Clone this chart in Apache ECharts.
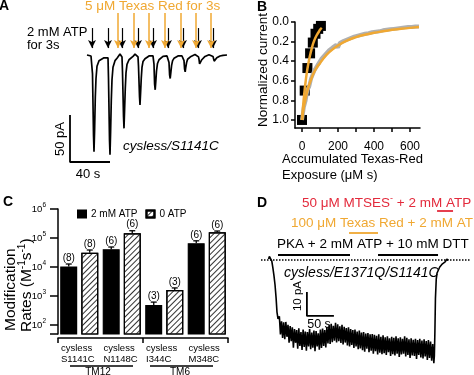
<!DOCTYPE html>
<html>
<head>
<meta charset="utf-8">
<script src="https://cdn.jsdelivr.net/npm/echarts@6/dist/echarts.min.js"></script>
<style>
html, body { margin: 0; padding: 0; background: #fff; }
#chart { width: 474px; height: 375px; }
</style>
</head>
<body>
<div id="chart"></div>
<script>
'use strict';
var FONT = '"Liberation Sans", Arial, sans-serif',
		ORANGE = '#f0a832',
		RED = '#e32a3c',
		GREY = '#b0b0b0';

// ---- panel A: current trace, time (s) vs current (pA)
var traceA = [
	[0, 0], [2, -0.5], [4, -1], [5, -2], [5.5, -20], [6.5, -85], [7, -103], [7.6, -80], [8.3, -45], [9, -25], [10, -12], [12, -6], [14, -4], [17, -3], [19, -2.5],
	[21, -3], [21.5, -25], [22.5, -90], [23, -106], [23.6, -82], [24.3, -48], [25, -26], [26, -13], [28, -6], [30, -3.5], [32, -1.5], [33, 1], [34, -1],
	[35, -2], [35.5, -18], [36.5, -65], [37, -78], [37.6, -58], [38.3, -35], [39, -19], [40, -10], [42, -5], [44, -3], [46, -1.5], [48, 1], [50, -1],
	[51, -2], [51.5, -12], [52.5, -44], [53, -53], [53.6, -40], [54.3, -24], [55, -13], [56, -7], [58, -4], [60, -2], [62, -1], [64, 1], [66, -1],
	[66.5, -3], [67, -10], [67.6, -31], [68.2, -37], [68.8, -28], [69.5, -17], [70.5, -9], [72, -5], [74, -3], [76, -1.5], [78, 0.5], [80, -1],
	[81.5, -3], [82, -8], [82.6, -21], [83.2, -25], [83.8, -19], [84.6, -11], [85.6, -6], [87, -3.5], [89, -2], [91, -1], [93, 0.5], [95, -1],
	[96.5, -2.5], [97, -6], [97.6, -15], [98.2, -18], [98.8, -13], [99.6, -8], [100.6, -4.5], [102, -3], [104, -1.5], [106, -0.5], [108, 0.5], [110, -1],
	[111.5, -2], [112, -4.5], [112.6, -9.5], [113.3, -11], [114, -8], [114.8, -5], [116, -3], [118, -1.5], [120, -0.5], [122, 0.3], [124, -0.5],
	[126, -1.5], [126.5, -3.5], [127.2, -6.5], [128, -7], [128.8, -5], [129.8, -3], [131, -1.8], [133, -1], [136, -0.3], [138, 0], [140, 0]
];
var atpArrowTimes = [5, 21, 35, 51, 66, 81, 96, 111, 126];
var texasRedArrowTimes = [31, 47, 62, 78, 94, 109, 124];
var scaleBarA = [[-17, -63.8], [-17, -113.8], [23, -113.8]];	// 50 pA, 40 s

// ---- panel B: normalized current vs accumulated exposure (uM s)
var pulseExposure = [0, 15, 30, 45, 60, 75, 90, 105];
var pulseCurrent = [1.0, 0.70, 0.47, 0.32, 0.21, 0.12, 0.07, 0.04];
var pulseFitX = [0, 5, 10, 15, 20, 25, 30, 40, 50, 60, 70, 80, 90, 100, 110];
var pulseFitY = [1.0, 0.88, 0.78, 0.69, 0.61, 0.54, 0.48, 0.38, 0.30, 0.23, 0.18, 0.14, 0.11, 0.08, 0.06];
var contStep = 10;	// continuous recording, one sample per 10 uM s
var contCurrent = [
	1.00, 0.87, 0.80, 0.69, 0.66, 0.58, 0.56, 0.49, 0.48, 0.43, 0.42, 0.37, 0.38, 0.33, 0.34, 0.29,
	0.31, 0.26, 0.28, 0.235, 0.26, 0.215, 0.235, 0.195, 0.215, 0.18, 0.20, 0.165, 0.185, 0.15, 0.17, 0.14,
	0.16, 0.13, 0.15, 0.12, 0.14, 0.115, 0.13, 0.105, 0.125, 0.10, 0.115, 0.095, 0.11, 0.085, 0.10, 0.08,
	0.095, 0.075, 0.09, 0.07, 0.085, 0.065, 0.08, 0.06, 0.075, 0.055, 0.07, 0.05, 0.065, 0.05, 0.06, 0.045,
	0.055, 0.045
];
var contFitX = [0, 10, 20, 30, 40, 50, 60, 80, 100, 120, 150, 200, 250, 300, 350, 400, 450, 500, 550, 600, 650];
var contFitY = [1.0, 0.87, 0.78, 0.70, 0.64, 0.59, 0.54, 0.47, 0.42, 0.37, 0.31, 0.24, 0.19, 0.155, 0.13, 0.11, 0.095, 0.08, 0.07, 0.06, 0.05];

// ---- panel C: modification rates (M-1 s-1)
var mutants = ['cysless\nS1141C', 'cysless\nN1148C', 'cysless\nI344C', 'cysless\nM348C'];
var rateAtp = [1.05e4, 4.1e4, 490, 6.6e4];
var rateAtpErr = [1.27e4, 4.9e4, 617, 8.0e4];
var rateNoAtp = [3.1e4, 1.45e5, 1.6e3, 1.57e5];
var rateNoAtpErr = [3.86e4, 1.78e5, 1.9e3, 1.74e5];
var nAtp = [8, 6, 3, 6];
var nNoAtp = [8, 6, 3, 6];

// ---- panel D: current trace, time (s) vs current (pA)
var traceDOnset = [[14, 0.4], [15.5, 1.5], [17, 1.2], [18.5, 0.8], [20, -0.5], [22, -3.3], [24, -6.5], [26, -10.4], [28, -16], [29.6, -21.7], [31.5, -24.5]];
var noiseStart = 34, noiseStep = 2;	// sampled every 2 s
var traceDNoise = [
	-23.5, -31.0, -25.5, -32.5, -26.0, -33.0, -25.8, -32.0, -27.0, -34.5, -27.5, -33.8, -28.0, -36.5, -28.8, -34.5,
	-29.2, -37.0, -28.5, -35.8, -30.0, -37.5, -29.0, -36.2, -29.8, -37.8, -30.0, -36.0, -28.8, -37.2, -30.2, -36.5,
	-29.4, -38.0, -29.6, -36.0, -30.5, -37.4, -29.0, -36.6, -28.6, -35.8, -29.2, -36.4, -27.8, -34.8, -27.2, -35.0,
	-26.6, -34.2, -27.4, -33.6, -26.2, -34.4, -26.8, -33.8, -27.6, -34.6, -27.0, -35.2, -27.8, -34.4, -28.4, -35.6,
	-28.0, -36.0, -28.8, -35.4, -29.2, -36.6, -29.0, -36.0, -29.8, -37.2, -29.4, -36.8, -30.2, -37.6, -30.0, -38.2,
	-30.6, -37.0, -30.4, -38.4, -31.0, -37.8, -30.8, -39.0, -31.2, -38.0, -31.6, -39.4, -31.0, -38.6, -32.0, -39.2,
	-31.4, -38.8, -32.2, -39.6, -31.8, -38.4, -32.6, -40.0, -32.0, -39.2, -32.4, -39.8, -31.8, -39.0, -32.6, -40.4,
	-32.2, -39.4, -32.8, -39.0, -31.8, -40.2, -32.4, -39.6, -33.0, -40.8, -32.6, -39.8, -33.2, -40.0, -32.8, -41.2,
	-33.4, -39.6, -32.8, -40.6, -33.6, -41.0, -33.0, -40.2, -33.8, -41.6, -33.4, -40.8, -34.0, -42.0, -35.0, -43.0
];
var traceDRecovery = [[321, -40], [322, -30], [323, -16], [324.5, -8], [326, -5.4], [331, -2.9], [336, -1.6], [341, -0.8], [344, 0.3], [346, 0.8], [347, 0]];
var pkaBar = [31.5, 164.8], dttBar = [216.7, 327.8], texasRedBar = [163, 216.7], mtsesBar = [326, 355.6];
var scaleBarD = [[85, -13.3], [85, -23.3], [135, -23.3]];	// 10 pA, 50 s

// ---------------------------------------------------------------
var chart = echarts.init(document.getElementById('chart'));

function zip(xs, ys) {
	return xs.map(function (x, i) { return [x, ys[i]]; });
}
function sampled(t0, dt, vals) {
	return vals.map(function (v, i) { return [t0 + i * dt, v]; });
}
function txt(x, y, s, size, extra) {
	var st = {
		text: s, fontSize: size, fontFamily: FONT, fill: '#000',
		align: 'left', textAlign: 'left', verticalAlign: 'middle', textVerticalAlign: 'middle'
	};
	extra = extra || {};
	for (var k in extra.style || {}) { st[k] = extra.style[k]; }
	if (st.align) { st.textAlign = st.align; }
	return { type: 'text', x: x, y: y, rotation: extra.rotation || 0, silent: true, style: st };
}
function hline(x1, x2, y, color, w) {
	return { type: 'line', silent: true, shape: { x1: x1, y1: y, x2: x2, y2: y },
		style: { stroke: color, lineWidth: w } };
}
function seg(x1, x2, y, color) {
	return [{ coord: [x1, y], lineStyle: { color: color, width: 1.8, type: 'solid' } }, { coord: [x2, y] }];
}

var axisStyle = { color: '#000', width: 1.5 };
var traceD = traceDOnset.concat(sampled(noiseStart, noiseStep, traceDNoise), traceDRecovery);

var arrowLines = atpArrowTimes.map(function (t) {
	return [{ coord: [t, 28.7], lineStyle: { color: '#000', width: 1.2, type: 'solid' } }, { coord: [t, 7.4] }];
}).concat(texasRedArrowTimes.map(function (t) {
	return [{ coord: [t, 44.7], lineStyle: { color: ORANGE, width: 1.5, type: 'solid' } }, { coord: [t, 7.4] }];
}));

var hatch = {
	symbol: 'rect', symbolSize: 1, color: '#333',
	dashArrayX: [1, 0], dashArrayY: [1, 2.6], rotation: -Math.PI / 4
};

function errorItem(side) {
	return function (params, api) {
		var top = api.coord([api.value(0), api.value(1)]),
				et = api.coord([api.value(0), api.value(2)]),
				x = top[0] + side * 10.5;
		return {
			type: 'group',
			children: [
				{ type: 'line', shape: { x1: x, y1: top[1], x2: x, y2: et[1] }, style: { stroke: '#000', lineWidth: 1.3 } },
				{ type: 'line', shape: { x1: x - 3, y1: et[1], x2: x + 3, y2: et[1] }, style: { stroke: '#000', lineWidth: 1.3 } },
				{ type: 'text', x: x, y: et[1] - 1, style: {
					text: '(' + api.value(3) + ')', fontSize: 10, fontFamily: FONT, fill: '#000',
					align: 'center', verticalAlign: 'bottom', textAlign: 'center', textVerticalAlign: 'bottom' } }
			]
		};
	};
}

var option = {
	animation: false,
	textStyle: { fontFamily: FONT },
	grid: [
		{ left: 60, top: 10, width: 170, height: 155 },
		{ left: 295, top: 22, width: 125, height: 106 },
		{ left: 58, top: 209, width: 170, height: 125 },
		{ left: 261, top: 205, width: 209, height: 165 }
	],
	legend: {
		left: 72, top: 204, itemWidth: 8, itemHeight: 7, itemGap: 8, icon: 'rect',
		selectedMode: false, data: ['2 mM ATP', '0 ATP'],
		textStyle: { fontSize: 10, color: '#000', fontFamily: FONT }
	},
	xAxis: [
		{ gridIndex: 0, type: 'value', min: -27, max: 143, show: false },
		{
			gridIndex: 1, type: 'value', min: -38.9, max: 655.6,
			axisLine: { show: true, onZero: false, lineStyle: axisStyle },
			axisTick: { show: true, length: 4, customValues: [0, 100, 200, 300, 400, 500, 600], lineStyle: axisStyle },
			axisLabel: { customValues: [0, 200, 400, 600], margin: 13, fontSize: 12, color: '#000', fontFamily: FONT },
			splitLine: { show: false }
		},
		{
			gridIndex: 2, type: 'category', data: mutants, offset: 4,
			axisLine: { show: true, onZero: false, lineStyle: axisStyle },
			axisTick: { show: true, length: 5, lineStyle: axisStyle },
			axisLabel: { show: false }, splitLine: { show: false }
		},
		{
			gridIndex: 2, type: 'category', data: mutants.concat(['']), boundaryGap: false,
			position: 'bottom', offset: 4,
			axisLine: { show: false }, axisTick: { show: false }, splitLine: { show: false },
			axisLabel: { interval: 0, align: 'left', margin: 5, fontSize: 9.5, lineHeight: 11, padding: [0, 0, 0, 3], color: '#000', fontFamily: FONT }
		},
		{ gridIndex: 3, type: 'value', min: 0, max: 387, show: false }
	],
	yAxis: [
		{ gridIndex: 0, type: 'value', min: -117, max: 47.9, show: false },
		{
			gridIndex: 1, type: 'value', inverse: true, min: 0, max: 1.082,
			axisLine: { show: true, onZero: false, lineStyle: axisStyle },
			axisTick: { show: true, length: 4, customValues: [0, 0.2, 0.4, 0.6, 0.8, 1.0], lineStyle: axisStyle },
			axisLabel: {
				customValues: [0, 0.2, 0.4, 0.6, 0.8, 1.0], margin: 6, fontSize: 12, color: '#000', fontFamily: FONT,
				formatter: function (v) { return v.toFixed(1); }
			},
			splitLine: { show: false }
		},
		{
			gridIndex: 2, type: 'log', min: 49, max: 1e6,
			axisLine: { show: true, onZero: false, lineStyle: axisStyle },
			axisTick: { show: true, length: 8, lineStyle: axisStyle },
			minorTick: { show: false }, splitLine: { show: false },
			axisLabel: {
				margin: 12, color: '#000',
				formatter: function (v) {
					var p = Math.log(v) / Math.LN10, r = Math.round(p);
					if (Math.abs(p - r) > 0.01) { return ''; }
					return '{b|10}{s|' + r + '}';
				},
				rich: {
					b: { fontSize: 9.5, fontFamily: FONT, color: '#000' },
					s: { fontSize: 6.5, fontFamily: FONT, color: '#000', padding: [0, 0, 7, 0] }
				}
			}
		},
		{ gridIndex: 3, type: 'value', min: -45.83, max: 22.92, show: false }
	],
	series: [
		// A
		{
			type: 'line', xAxisIndex: 0, yAxisIndex: 0, data: traceA, showSymbol: false, symbol: 'none',
			lineStyle: { color: '#000', width: 1.7 }, clip: false, silent: true,
			markLine: {
				silent: true, symbol: ['none', 'arrow'], symbolSize: [6, 8], label: { show: false },
				animation: false, data: arrowLines
			}
		},
		{
			type: 'line', xAxisIndex: 0, yAxisIndex: 0, data: scaleBarA, symbol: 'none', clip: false, silent: true,
			lineStyle: { color: '#000', width: 1.8 }
		},
		// B
		{
			type: 'line', xAxisIndex: 1, yAxisIndex: 1, data: sampled(0, contStep, contCurrent), symbol: 'none', silent: true,
			lineStyle: { color: GREY, width: 4 }
		},
		{
			type: 'scatter', xAxisIndex: 1, yAxisIndex: 1, data: zip(pulseExposure, pulseCurrent), symbol: 'rect', symbolSize: 10,
			itemStyle: { color: '#000', opacity: 1 }, silent: true
		},
		{
			type: 'line', xAxisIndex: 1, yAxisIndex: 1, data: zip(contFitX, contFitY), symbol: 'none', smooth: true, silent: true,
			lineStyle: { color: ORANGE, width: 2.5 }
		},
		{
			type: 'line', xAxisIndex: 1, yAxisIndex: 1, data: zip(pulseFitX, pulseFitY), symbol: 'none', smooth: true, silent: true,
			lineStyle: { color: ORANGE, width: 2.5 }
		},
		// C
		{
			name: '2 mM ATP', type: 'bar', xAxisIndex: 2, yAxisIndex: 2, data: rateAtp, barWidth: 17, barGap: '24%',
			itemStyle: { color: '#000', borderColor: '#000', borderWidth: 1.2 }, silent: true
		},
		{
			name: '0 ATP', type: 'bar', xAxisIndex: 2, yAxisIndex: 2, data: rateNoAtp, barWidth: 17, barGap: '24%',
			itemStyle: { color: '#fff', borderColor: '#000', borderWidth: 1.2, decal: hatch }, silent: true
		},
		{
			type: 'custom', xAxisIndex: 2, yAxisIndex: 2, renderItem: errorItem(-1), silent: true, z: 5,
			data: rateAtp.map(function (v, i) { return [i, v, rateAtpErr[i], nAtp[i]]; })
		},
		{
			type: 'custom', xAxisIndex: 2, yAxisIndex: 2, renderItem: errorItem(1), silent: true, z: 5,
			data: rateNoAtp.map(function (v, i) { return [i, v, rateNoAtpErr[i], nNoAtp[i]]; })
		},
		// D
		{
			type: 'line', xAxisIndex: 4, yAxisIndex: 3, data: [[0, 0], [387, 0]], symbol: 'none', silent: true,
			lineStyle: { color: '#000', width: 1.5, type: [1.5, 1.5] }
		},
		{
			type: 'line', xAxisIndex: 4, yAxisIndex: 3, data: traceD, symbol: 'none', silent: true,
			lineStyle: { color: '#000', width: 1.6 },
			markLine: {
				silent: true, symbol: ['none', 'none'], label: { show: false }, animation: false,
				data: [
					seg(pkaBar[0], pkaBar[1], 2.1, '#000'),
					seg(dttBar[0], dttBar[1], 2.1, '#000'),
					seg(texasRedBar[0], texasRedBar[1], 11.25, ORANGE),
					seg(mtsesBar[0], mtsesBar[1], 20.4, RED)
				]
			}
		},
		{
			type: 'line', xAxisIndex: 4, yAxisIndex: 3, data: scaleBarD, symbol: 'none', silent: true, clip: false,
			lineStyle: { color: '#000', width: 1.8 }
		}
	],
	graphic: [
		// A
		txt(-1, 6, 'A', 14, { style: { fontWeight: 'bold' } }),
		txt(85, 6, '5 \u03bcM Texas Red for 3s', 13.5, { style: { fill: ORANGE } }),
		txt(27, 32, '2 mM ATP', 13),
		txt(27, 45, 'for 3s', 13),
		txt(123, 146, 'cysless/S1141C', 13.5, { style: { fontStyle: 'italic' } }),
		txt(60, 139, '50 pA', 13, { rotation: Math.PI / 2, style: { align: 'center' } }),
		txt(88, 174, '40 s', 13, { style: { align: 'center' } }),
		// B
		txt(257, 7, 'B', 14, { style: { fontWeight: 'bold' } }),
		txt(263, 70, 'Normalized current', 13.5, { rotation: Math.PI / 2, style: { align: 'center' } }),
		txt(282, 159, 'Accumulated Texas-Red', 13),
		txt(282, 175, 'Exposure (\u03bcM s)', 13),
		// C
		txt(3, 202, 'C', 14, { style: { fontWeight: 'bold' } }),
		txt(11, 331, 'Modification', 15.5, { rotation: Math.PI / 2 }),
		{
			type: 'text', x: 27, y: 332, rotation: Math.PI / 2, silent: true,
			style: {
				text: '{m|Rates (M}{s|-1}{m|s}{s|-1}{m|)}', align: 'left', textAlign: 'left', verticalAlign: 'middle', textVerticalAlign: 'middle',
				rich: {
					m: { fontSize: 15.5, fontFamily: FONT, fill: '#000', color: '#000' },
					s: { fontSize: 10, fontFamily: FONT, fill: '#000', color: '#000', padding: [0, 0, 9, 0] }
				}
			}
		},
		hline(70, 133, 366, '#000', 1.3),
		hline(150, 213, 366, '#000', 1.3),
		txt(98, 372, 'TM12', 10, { style: { align: 'center' } }),
		txt(180, 372, 'TM6', 10, { style: { align: 'center' } }),
		// D
		txt(257, 203, 'D', 14, { style: { fontWeight: 'bold' } }),
		{
			type: 'text', x: 302, y: 203, silent: true,
			style: {
				text: '{m|50 \u03bcM MTSES}{s|-}{m| + 2 mM ATP}', align: 'left', textAlign: 'left', verticalAlign: 'middle', textVerticalAlign: 'middle',
				rich: {
					m: { fontSize: 13.5, fontFamily: FONT, fill: RED, color: RED },
					s: { fontSize: 9, fontFamily: FONT, fill: RED, color: RED, padding: [0, 0, 8, 0] }
				}
			}
		},
		txt(291, 223, '100 \u03bcM Texas Red + 2 mM ATP', 13.5, { style: { fill: ORANGE } }),
		txt(277, 244, 'PKA + 2 mM ATP + 10 mM DTT', 13.5),
		txt(284, 273, 'cysless/E1371Q/S1141C', 14, { style: { fontStyle: 'italic' } }),
		txt(298, 296, '10 pA', 11.5, { rotation: Math.PI / 2, style: { align: 'center' } }),
		txt(319, 325, '50 s', 12.5, { style: { align: 'center' } })
	]
};

chart.setOption(option);
</script>
</body>
</html>
